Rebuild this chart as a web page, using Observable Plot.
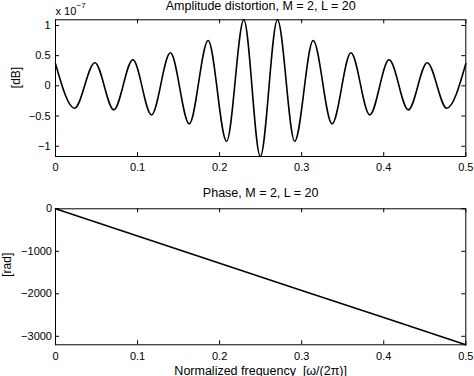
<!DOCTYPE html>
<html>
<head>
<meta charset="utf-8">
<script src="https://cdn.jsdelivr.net/npm/d3@7"></script>
<script src="https://cdn.jsdelivr.net/npm/@observablehq/plot@0.6"></script>
<style>
  html, body { margin: 0; padding: 0; background: white; }
  #chart { position: relative; width: 474px; height: 376px; overflow: hidden; background: white; }
  #chart svg { display: block; position: absolute; left: 0; }
</style>
</head>
<body>
<div id="chart"></div>
<script>
// ---- data ----
const ampFreq = [0, 0.0232, 0.048, 0.071, 0.0943, 0.117, 0.140, 0.163, 0.186, 0.2085, 0.2295, 0.2496,
                 0.2705, 0.2915, 0.314, 0.337, 0.360, 0.383, 0.4065, 0.430, 0.453, 0.4768, 0.5];
const ampVal  = [0.365, -0.370, 0.382, -0.397, 0.432, -0.480, 0.548, -0.629, 0.750, -0.917, 1.094, -1.17,
                 1.094, -0.917, 0.750, -0.629, 0.548, -0.480, 0.432, -0.397, 0.382, -0.370, 0.365];
const phaseFreq = [0, 0.1, 0.2, 0.3, 0.4, 0.5];
const phaseVal  = [0, -640, -1280, -1920, -2560, -3200];
const xTicks = [0, 0.1, 0.2, 0.3, 0.4, 0.5];
const ampTicks = [-1, -0.5, 0, 0.5, 1];
const phaseTicks = [-3000, -2000, -1000, 0];
const title1 = "Amplitude distortion, M = 2, L = 20";
const title2 = "Phase, M = 2, L = 20";
const ampLabel = "[dB]";
const phaseLabel = "[rad]";
const xLabel = "Normalized frequency  [ω/(2π)]";
const expBase = "x 10";
const expPow = "−7";

const ampData = ampFreq.map((f, i) => ({f, v: ampVal[i]}));
const phaseData = phaseFreq.map((f, i) => ({f, v: phaseVal[i]}));

const W = 474, mL = 55, mR = 8.7;
const innerW = W - mL - mR;
const font = "'Liberation Sans', Arial, Helvetica, sans-serif";
const style = {fontFamily: font, fontSize: "11px", color: "black", background: "transparent", overflow: "visible"};
const fmt = d3.format("~g");

function ticksMarks(yTicks, innerH) {
  return [
    Plot.tickX(xTicks, {x: d => d, insetTop: innerH - 4, stroke: "black"}),
    Plot.tickX(xTicks, {x: d => d, insetBottom: innerH - 4, stroke: "black"}),
    Plot.tickY(yTicks, {y: d => d, insetRight: innerW - 4, stroke: "black"}),
    Plot.tickY(yTicks, {y: d => d, insetLeft: innerW - 4, stroke: "black"})
  ];
}

// ---- top: amplitude distortion ----
const h1 = 180, mT1 = 19.3, mB1 = 24;
const inner1 = h1 - mT1 - mB1;
const p1 = Plot.plot({
  width: W, height: h1,
  marginLeft: mL, marginRight: mR, marginTop: mT1, marginBottom: mB1,
  style,
  x: {domain: [0, 0.5]},
  y: {domain: [-1.17, 1.094]},
  marks: [
    Plot.line(ampData, {x: "f", y: "v", curve: "monotone-x", stroke: "black", strokeWidth: 1.6}),
    Plot.frame({stroke: "black", strokeWidth: 1}),
    ...ticksMarks(ampTicks, inner1),
    Plot.axisX(xTicks, {tickSize: 0, tickPadding: 7, label: null, tickFormat: fmt}),
    Plot.axisY(ampTicks, {tickSize: 0, tickPadding: 5, label: null, tickFormat: fmt}),
    Plot.text([title1], {text: d => d, frameAnchor: "top", lineAnchor: "bottom", dy: -9.6, fontSize: 12.5}),
    Plot.text([expBase], {text: d => d, frameAnchor: "top-left", textAnchor: "start", lineAnchor: "bottom", dy: -4.3, dx: 0, fontSize: 11}),
    Plot.text([expPow], {text: d => d, frameAnchor: "top-left", textAnchor: "start", lineAnchor: "bottom", dy: -12, dx: 21, fontSize: 8}),
    Plot.text([ampLabel], {text: d => d, frameAnchor: "left", rotate: -90, dx: -39, fontSize: 12})
  ]
});
p1.style.top = "0px";

// ---- bottom: phase ----
const h2 = 196, mT2 = 28.3, mB2 = 31.7;
const inner2 = h2 - mT2 - mB2;
const p2 = Plot.plot({
  width: W, height: h2,
  marginLeft: mL, marginRight: mR, marginTop: mT2, marginBottom: mB2,
  style,
  x: {domain: [0, 0.5]},
  y: {domain: [-3200, 0]},
  marks: [
    Plot.line(phaseData, {x: "f", y: "v", stroke: "black", strokeWidth: 1.6}),
    Plot.frame({stroke: "black", strokeWidth: 1}),
    ...ticksMarks(phaseTicks, inner2),
    Plot.axisX(xTicks, {tickSize: 0, tickPadding: 7.4, label: null, tickFormat: fmt}),
    Plot.axisY(phaseTicks, {tickSize: 0, tickPadding: 3.5, label: null, tickFormat: fmt}),
    Plot.text([title2], {text: d => d, frameAnchor: "top", lineAnchor: "bottom", dy: -12.3, fontSize: 12.5}),
    Plot.text([xLabel], {text: d => d, frameAnchor: "bottom", lineAnchor: "bottom", dy: 29.7, fontSize: 12.5}),
    Plot.text([phaseLabel], {text: d => d, frameAnchor: "left", rotate: -90, dx: -48, fontSize: 12})
  ]
});
p2.style.top = "180px";

const chart = document.getElementById("chart");
chart.appendChild(p1);
chart.appendChild(p2);
</script>
</body>
</html>
